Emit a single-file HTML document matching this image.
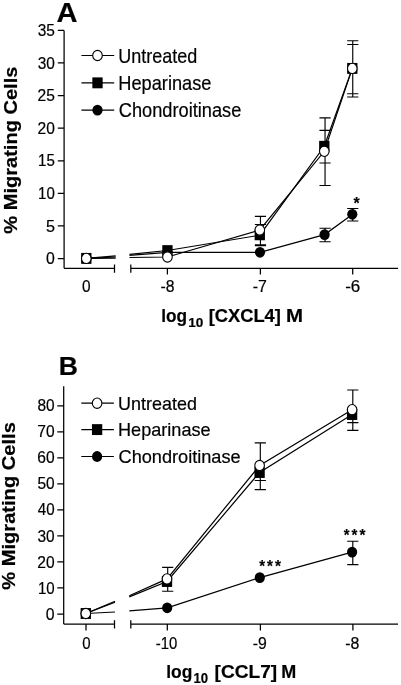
<!DOCTYPE html>
<html><head><meta charset="utf-8"><title>Figure</title>
<style>
html,body{margin:0;padding:0;background:#fff;}
body{width:401px;height:685px;overflow:hidden;}
svg{display:block;filter:blur(0.35px);}
text{font-family:"Liberation Sans",Arial,Helvetica,sans-serif;fill:#000;stroke:#000;stroke-width:0.2px;}
.b{font-weight:bold;}
.l{stroke:#000;stroke-width:1.2;fill:none;}
.e{stroke:#000;stroke-width:1.15;fill:none;}
.a{stroke:#000;stroke-width:1.25;fill:none;}
.oc{fill:#fff;stroke:#000;stroke-width:1.1;}
.fc{fill:#000;}
</style></head><body>
<svg width="401" height="685" viewBox="0 0 401 685">
<rect width="401" height="685" fill="#fff"/>

<text class="b" font-size="28.53" transform="translate(56.38 21.74) scale(1.0197 1)">A</text>
<path class="a" d="M64.1 30.4V268.3M57.8 258.5H64.1M57.8 225.91H64.1M57.8 193.33H64.1M57.8 160.75H64.1M57.8 128.16H64.1M57.8 95.57H64.1M57.8 62.99H64.1M57.8 30.41H64.1M64.1 268.3H114.5M114.5 264.5V272.7M130.8 264.5V272.7M130.8 268.3H398M167.4 268.3V274.6M260.4 268.3V274.6M352.7 268.3V274.6"/>
<text font-size="15.92" transform="translate(45.92 264.09) scale(0.9948 1)">0</text>
<text font-size="16.14" transform="translate(45.9 231.5) scale(1.0017 1)">5</text>
<text font-size="15.92" transform="translate(38.05 198.92) scale(0.9457 1)">10</text>
<text font-size="16.14" transform="translate(38.05 166.33) scale(0.9323 1)">15</text>
<text font-size="15.92" transform="translate(37.47 133.75) scale(0.9794 1)">20</text>
<text font-size="15.92" transform="translate(37.47 101.17) scale(0.9794 1)">25</text>
<text font-size="15.92" transform="translate(37.63 68.58) scale(0.9699 1)">30</text>
<text font-size="15.92" transform="translate(37.63 36) scale(0.9699 1)">35</text>
<text font-size="15.77" transform="translate(81.93 292.29) scale(0.9773 1)">0</text>
<text font-size="15.77" transform="translate(160.62 292.29) scale(0.9984 1)">-8</text>
<text font-size="16.18" transform="translate(252.81 292.41) scale(0.9814 1)">-7</text>
<text font-size="15.77" transform="translate(345.17 292.29) scale(1.0777 1)">-6</text>
<path class="l" d="M81.4 55.5H114.2"/>
<ellipse class="oc" cx="97.5" cy="55.5" rx="4.8" ry="5.15"/>
<text font-size="20" transform="translate(118.31 62.6) scale(0.9012 1)">Untreated</text>
<path class="l" d="M81.4 82.85H114.2"/>
<rect class="fc" x="92.35" y="77.4" width="10.3" height="10.9"/>
<text font-size="20" transform="translate(118.29 89.8) scale(0.9118 1)">Heparinase</text>
<path class="l" d="M81.4 110.15H114.2"/>
<ellipse class="fc" cx="97.5" cy="110.15" rx="5.1" ry="5.4"/>
<text font-size="20" transform="translate(118.84 117) scale(0.9103 1)">Chondroitinase</text>
<text class="b" font-size="18.3" transform="translate(17.31 233.65) rotate(-90) scale(1.0957 1)">% Migrating Cells</text>
<text class="b" font-size="18.3" transform="translate(161.25 321.81) scale(0.9403 1)">log</text>
<text class="b" font-size="13.66" transform="translate(188.14 326.61) scale(0.9929 1)">10</text>
<text class="b" font-size="19.04" transform="translate(208.75 322.35) scale(0.9612 1)">[CXCL4]</text>
<text class="b" font-size="18.99" transform="translate(286.02 322.25) scale(1.0760 1)">M</text>
<path class="l" d="M86.3 258.4L115.7 255.9"/>
<path class="l" d="M86.3 258.4L115.7 257"/>
<path class="l" d="M86.3 258.4L115.7 258.2"/>
<path class="l" d="M129.5 254.4L167.45 250.5L259.8 235.2L324.3 146.3L352.3 68.4"/>
<path class="l" d="M129.5 255.3L167.45 252.4L260 252.4L324.6 234.6L352.3 214.4"/>
<path class="l" d="M129.5 257.5L167.45 257L259.8 230L324.3 151.3L352.3 68.4"/>
<path class="e" d="M260.45 216.3V245.7M254.85 216.3H266.05M254.85 224.5H266.05M254.85 244.9H266.05M254.85 245.7H266.05"/>
<path class="e" d="M325.05 117.8V185.5M319.45 117.8H330.65M319.45 130.3H330.65M319.45 163H330.65M319.45 185.5H330.65"/>
<path class="e" d="M352.75 40.75V97M347.15 40.75H358.35M347.15 44.5H358.35M347.15 93.75H358.35M347.15 97H358.35"/>
<path class="e" d="M325.05 228.25V241.75M319.45 228.25H330.65M319.45 241.75H330.65"/>
<path class="e" d="M352.75 208.5V221M347.15 208.5H358.35M347.15 221H358.35"/>
<ellipse class="fc" cx="86.3" cy="258.4" rx="5.1" ry="5.4"/>
<ellipse class="fc" cx="167.45" cy="252.4" rx="5.1" ry="5.4"/>
<ellipse class="fc" cx="260" cy="252.3" rx="5.1" ry="5.4"/>
<ellipse class="fc" cx="324.6" cy="234.6" rx="5.1" ry="5.4"/>
<ellipse class="fc" cx="352.3" cy="214.3" rx="5.1" ry="5.4"/>
<rect class="fc" x="81.15" y="252.95" width="10.3" height="10.9"/>
<rect class="fc" x="162.3" y="245.15" width="10.3" height="10.9"/>
<rect class="fc" x="254.65" y="229.35" width="10.3" height="10.9"/>
<rect class="fc" x="319.15" y="140.85" width="10.3" height="10.9"/>
<rect class="fc" x="347.15" y="62.95" width="10.3" height="10.9"/>
<ellipse class="oc" cx="86.3" cy="258.4" rx="4.8" ry="5.15"/>
<ellipse class="oc" cx="167.45" cy="257" rx="4.8" ry="5.15"/>
<ellipse class="oc" cx="259.8" cy="230" rx="4.8" ry="5.15"/>
<ellipse class="oc" cx="324.3" cy="151.3" rx="4.8" ry="5.15"/>
<ellipse class="oc" cx="352.3" cy="68.4" rx="4.8" ry="5.15"/>
<text class="b" font-size="16.49" transform="translate(353.4 208.58) scale(0.9643 1)">*</text>
<text class="b" font-size="25.94" transform="translate(58.69 375.45) scale(1.0237 1)">B</text>
<path class="a" d="M63.7 386.2V624.1M57.3 614H63.7M57.3 587.97H63.7M57.3 561.94H63.7M57.3 535.91H63.7M57.3 509.88H63.7M57.3 483.85H63.7M57.3 457.82H63.7M57.3 431.79H63.7M57.3 405.76H63.7M63.7 624.1H114.5M114.5 620.3V628.5M130.8 620.3V628.5M130.8 624.1H398M86 624.1V630.4M167.3 624.1V630.4M260.4 624.1V630.4M352.9 624.1V630.4"/>
<text font-size="15.92" transform="translate(45.82 619.59) scale(0.9948 1)">0</text>
<text font-size="15.92" transform="translate(37.95 593.56) scale(0.9457 1)">10</text>
<text font-size="15.92" transform="translate(37.37 567.53) scale(0.9794 1)">20</text>
<text font-size="15.92" transform="translate(37.53 541.5) scale(0.9699 1)">30</text>
<text font-size="15.92" transform="translate(37.85 515.47) scale(0.9515 1)">40</text>
<text font-size="15.92" transform="translate(37.53 489.44) scale(0.9699 1)">50</text>
<text font-size="15.92" transform="translate(37.37 463.41) scale(0.9794 1)">60</text>
<text font-size="15.92" transform="translate(37.37 437.38) scale(0.9794 1)">70</text>
<text font-size="15.92" transform="translate(37.53 411.35) scale(0.9699 1)">80</text>
<text font-size="16.2" transform="translate(82.25 649.09) scale(0.9261 1)">0</text>
<text font-size="16.2" transform="translate(155.85 649.09) scale(0.9193 1)">-10</text>
<text font-size="16.2" transform="translate(252.82 649.09) scale(0.9724 1)">-9</text>
<text font-size="16.2" transform="translate(345.31 649.09) scale(0.9801 1)">-8</text>
<path class="l" d="M81.3 403.2H113.9"/>
<ellipse class="oc" cx="97.1" cy="403.2" rx="4.8" ry="5.15"/>
<text font-size="19.18" transform="translate(118.01 410) scale(0.9373 1)">Untreated</text>
<path class="l" d="M81.3 429.6H113.9"/>
<rect class="fc" x="91.95" y="424.15" width="10.3" height="10.9"/>
<text font-size="18.9" transform="translate(118 436.2) scale(0.9583 1)">Heparinase</text>
<path class="l" d="M81.3 456.5H113.9"/>
<ellipse class="fc" cx="97.1" cy="456.5" rx="5.1" ry="5.4"/>
<text font-size="18.9" transform="translate(118.54 463.1) scale(0.9614 1)">Chondroitinase</text>
<text class="b" font-size="17.87" transform="translate(15.4 589.75) rotate(-90) scale(1.1258 1)">% Migrating Cells</text>
<text class="b" font-size="18.51" transform="translate(166.23 678.06) scale(0.9414 1)">log</text>
<text class="b" font-size="13.8" transform="translate(193.56 682.81) scale(0.9540 1)">10</text>
<text class="b" font-size="18.94" transform="translate(214.61 678.37) scale(1.0077 1)">[CCL7]</text>
<text class="b" font-size="18.99" transform="translate(281.29 678.35) scale(0.9481 1)">M</text>
<path class="l" d="M85.8 613.5L115 601.3"/>
<path class="l" d="M85.8 613.5L115 602.3"/>
<path class="l" d="M85.8 613.5L115 612"/>
<path class="l" d="M129.3 595.7L167 578.9L259.6 465.5L352.1 409.7"/>
<path class="l" d="M129.3 596.9L167 581.5L259.6 472.4L352.1 414.6"/>
<path class="l" d="M129.3 610.8L167.2 607.8L259.8 577.6L352.1 552.1"/>
<path class="e" d="M167.7 567.3V591.2M162.1 567.3H173.3M162.1 591.2H173.3"/>
<path class="e" d="M260.3 442.9V489.6M254.7 442.9H265.9M254.7 480.5H265.9M254.7 489.6H265.9"/>
<path class="e" d="M352.8 390V430.3M347.2 390H358.4M347.2 422.6H358.4M347.2 430.3H358.4"/>
<path class="e" d="M352.8 541.2V564.6M347.2 541.2H358.4M347.2 564.6H358.4"/>
<ellipse class="fc" cx="85.8" cy="613.5" rx="5.1" ry="5.4"/>
<ellipse class="fc" cx="167.2" cy="607.8" rx="5.1" ry="5.4"/>
<ellipse class="fc" cx="259.8" cy="577.6" rx="5.1" ry="5.4"/>
<ellipse class="fc" cx="352.1" cy="552.1" rx="5.1" ry="5.4"/>
<rect class="fc" x="80.65" y="608.05" width="10.3" height="10.9"/>
<rect class="fc" x="161.85" y="576.05" width="10.3" height="10.9"/>
<rect class="fc" x="254.45" y="467.05" width="10.3" height="10.9"/>
<rect class="fc" x="346.95" y="409.05" width="10.3" height="10.9"/>
<ellipse class="oc" cx="85.8" cy="613.5" rx="4.8" ry="5.15"/>
<ellipse class="oc" cx="167" cy="578.9" rx="4.8" ry="5.15"/>
<ellipse class="oc" cx="259.6" cy="465.5" rx="4.8" ry="5.15"/>
<ellipse class="oc" cx="352.1" cy="409.7" rx="4.8" ry="5.15"/>
<text class="b" font-size="17.3" transform="translate(259.3 572.04) scale(0.8598 1)">*</text>
<text class="b" font-size="17.3" transform="translate(267 572.04) scale(0.8746 1)">*</text>
<text class="b" font-size="17.3" transform="translate(275 572.04) scale(0.8894 1)">*</text>
<text class="b" font-size="17.3" transform="translate(343.8 541.04) scale(0.8598 1)">*</text>
<text class="b" font-size="17.3" transform="translate(351.5 541.04) scale(0.8746 1)">*</text>
<text class="b" font-size="17.3" transform="translate(359.5 541.04) scale(0.8894 1)">*</text>
</svg></body></html>
